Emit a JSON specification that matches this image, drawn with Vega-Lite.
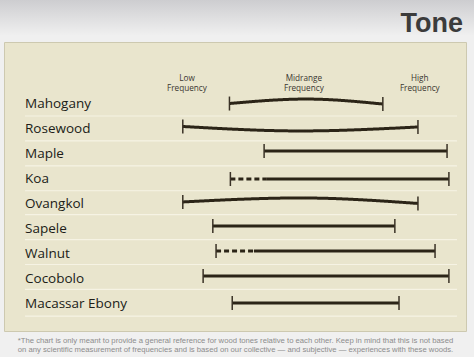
{
  "$schema": "https://vega.github.io/schema/vega-lite/v6.json",
  "width": 462,
  "height": 289,
  "autosize": {"type": "none"},
  "padding": {"left": 4, "top": 42, "right": 8, "bottom": 26},
  "background": "#f0f0f0",
  "config": {"view": {"fill": "#e9e5cd", "stroke": "#cdc9b0", "strokeWidth": 1}},
  "title": {
    "text": "Tone",
    "anchor": "end",
    "frame": "group",
    "fontSize": 27,
    "font": "Liberation Sans",
    "fontWeight": "bold",
    "color": "#3b3b3b",
    "baseline": "alphabetic",
    "offset": -59,
    "dx": -3,
    "zindex": 1
  },
  "datasets": {
    "header": [{"x": -0.87, "x2": 101.74, "y": -3.19, "y2": -1.5}],
    "seps": [
      {"x": 4.55, "x2": 98.05, "y": 1.47},
      {"x": 4.55, "x2": 98.05, "y": 2.47},
      {"x": 4.55, "x2": 98.05, "y": 3.47},
      {"x": 4.55, "x2": 98.05, "y": 4.47},
      {"x": 4.55, "x2": 98.05, "y": 5.43},
      {"x": 4.55, "x2": 98.05, "y": 6.43},
      {"x": 4.55, "x2": 98.05, "y": 7.43},
      {"x": 4.55, "x2": 98.05, "y": 8.43},
      {"x": 4.55, "x2": 98.05, "y": 9.5}
    ],
    "segs": [
      {"seg": "Mahogany", "style": "solid", "ord": 1, "x": 48.8, "y": 0.97},
      {"seg": "Mahogany", "style": "solid", "ord": 2, "x": 65.4, "y": 0.79},
      {"seg": "Mahogany", "style": "solid", "ord": 3, "x": 82.0, "y": 0.99},
      {"seg": "Rosewood", "style": "solid", "ord": 1, "x": 38.7, "y": 1.89},
      {"seg": "Rosewood", "style": "solid", "ord": 2, "x": 64.2, "y": 2.07},
      {"seg": "Rosewood", "style": "solid", "ord": 3, "x": 89.6, "y": 1.91},
      {"seg": "Maple", "style": "solid", "ord": 1, "x": 56.3, "y": 2.88},
      {"seg": "Maple", "style": "solid", "ord": 2, "x": 95.9, "y": 2.88},
      {"seg": "Koa-d", "style": "dashed", "ord": 1, "x": 49.0, "y": 4.0},
      {"seg": "Koa-d", "style": "dashed", "ord": 2, "x": 56.9, "y": 4.0},
      {"seg": "Koa", "style": "solid", "ord": 1, "x": 56.9, "y": 4.0},
      {"seg": "Koa", "style": "solid", "ord": 2, "x": 96.3, "y": 4.0},
      {"seg": "Ovangkol", "style": "solid", "ord": 1, "x": 38.7, "y": 4.92},
      {"seg": "Ovangkol", "style": "solid", "ord": 2, "x": 64.2, "y": 4.76},
      {"seg": "Ovangkol", "style": "solid", "ord": 3, "x": 89.6, "y": 4.98},
      {"seg": "Sapele", "style": "solid", "ord": 1, "x": 45.2, "y": 5.89},
      {"seg": "Sapele", "style": "solid", "ord": 2, "x": 84.6, "y": 5.89},
      {"seg": "Walnut-d", "style": "dashed", "ord": 1, "x": 45.9, "y": 6.89},
      {"seg": "Walnut-d", "style": "dashed", "ord": 2, "x": 54.1, "y": 6.89},
      {"seg": "Walnut", "style": "solid", "ord": 1, "x": 54.1, "y": 6.89},
      {"seg": "Walnut", "style": "solid", "ord": 2, "x": 93.3, "y": 6.89},
      {"seg": "Cocobolo", "style": "solid", "ord": 1, "x": 43.1, "y": 7.89},
      {"seg": "Cocobolo", "style": "solid", "ord": 2, "x": 96.3, "y": 7.89},
      {"seg": "Macassar Ebony", "style": "solid", "ord": 1, "x": 49.4, "y": 8.98},
      {"seg": "Macassar Ebony", "style": "solid", "ord": 2, "x": 85.5, "y": 8.98}
    ],
    "caps": [
      {"x": 48.8, "y": 0.97}, {"x": 82.0, "y": 0.99},
      {"x": 38.7, "y": 1.89}, {"x": 89.6, "y": 1.91},
      {"x": 56.3, "y": 2.88}, {"x": 95.9, "y": 2.88},
      {"x": 49.0, "y": 4.0}, {"x": 96.3, "y": 4.0},
      {"x": 38.7, "y": 4.92}, {"x": 89.6, "y": 4.98},
      {"x": 45.2, "y": 5.89}, {"x": 84.6, "y": 5.89},
      {"x": 45.9, "y": 6.89}, {"x": 93.3, "y": 6.89},
      {"x": 43.1, "y": 7.89}, {"x": 96.3, "y": 7.89},
      {"x": 49.4, "y": 8.98}, {"x": 85.5, "y": 8.98}
    ],
    "woods": [
      {"label": "Mahogany", "x": 4.55, "y": 1.0},
      {"label": "Rosewood", "x": 4.55, "y": 2.0},
      {"label": "Maple", "x": 4.55, "y": 3.0},
      {"label": "Koa", "x": 4.55, "y": 4.0},
      {"label": "Ovangkol", "x": 4.55, "y": 5.0},
      {"label": "Sapele", "x": 4.55, "y": 6.0},
      {"label": "Walnut", "x": 4.55, "y": 7.0},
      {"label": "Cocobolo", "x": 4.55, "y": 8.0},
      {"label": "Macassar Ebony", "x": 4.55, "y": 9.0}
    ],
    "freq": [
      {"label": "Low\nFrequency", "x": 39.6, "y": 0.0},
      {"label": "Midrange\nFrequency", "x": 64.9, "y": 0.0},
      {"label": "High\nFrequency", "x": 90.0, "y": 0.0}
    ]
  },
  "encoding": {
    "x": {
      "field": "x",
      "type": "quantitative",
      "scale": {"domain": [0, 100], "nice": false, "zero": false},
      "axis": {
        "orient": "bottom",
        "domain": false,
        "ticks": false,
        "labels": false,
        "grid": false,
        "title": [
          "*The chart is only meant to provide a general reference for wood tones relative to each other. Keep in mind that this is not based",
          "on any scientific measurement of frequencies and is based on our collective \u2014 and subjective \u2014 experiences with these woods."
        ],
        "titleFont": "Liberation Sans",
        "titleFontSize": 7.7,
        "titleFontWeight": "normal",
        "titleColor": "#8c8c8c",
        "titleLineHeight": 9.5,
        "titlePadding": 5
      }
    },
    "y": {
      "field": "y",
      "type": "quantitative",
      "scale": {"domain": [-1.5, 10.1], "nice": false, "zero": false, "reverse": true},
      "axis": null
    }
  },
  "layer": [
    {
      "data": {"name": "header"},
      "mark": {
        "type": "rect",
        "color": {
          "gradient": "linear",
          "x1": 0, "y1": 0, "x2": 0, "y2": 1,
          "stops": [
            {"offset": 0, "color": "#cdcdd0"},
            {"offset": 0.85, "color": "#f0f0f0"},
            {"offset": 1, "color": "#f0f0f0"}
          ]
        }
      },
      "encoding": {"x2": {"field": "x2"}, "y2": {"field": "y2"}}
    },
    {
      "data": {"name": "seps"},
      "mark": {"type": "rule", "color": "#f6f3e4", "strokeWidth": 1.2},
      "encoding": {"x2": {"field": "x2"}}
    },
    {
      "data": {"name": "segs"},
      "mark": {"type": "line", "interpolate": "monotone", "strokeWidth": 3, "color": "#2b2417"},
      "encoding": {
        "detail": {"field": "seg"},
        "order": {"field": "ord", "type": "quantitative"},
        "strokeDash": {
          "field": "style",
          "type": "nominal",
          "scale": {"domain": ["solid", "dashed"], "range": [[1, 0], [5, 3]]},
          "legend": null
        }
      }
    },
    {
      "data": {"name": "caps"},
      "mark": {"type": "tick", "orient": "vertical", "size": 14, "thickness": 1.5, "color": "#3a3226", "opacity": 1}
    },
    {
      "data": {"name": "woods"},
      "mark": {"type": "text", "align": "left", "baseline": "middle", "font": "Open Sans", "fontSize": 13.5, "color": "#201c17"},
      "encoding": {"text": {"field": "label"}}
    },
    {
      "data": {"name": "freq"},
      "mark": {"type": "text", "align": "center", "baseline": "middle", "lineBreak": "\n", "lineHeight": 9.8, "font": "Open Sans", "fontSize": 8.2, "color": "#3a3530"},
      "encoding": {"text": {"field": "label"}}
    }
  ]
}
